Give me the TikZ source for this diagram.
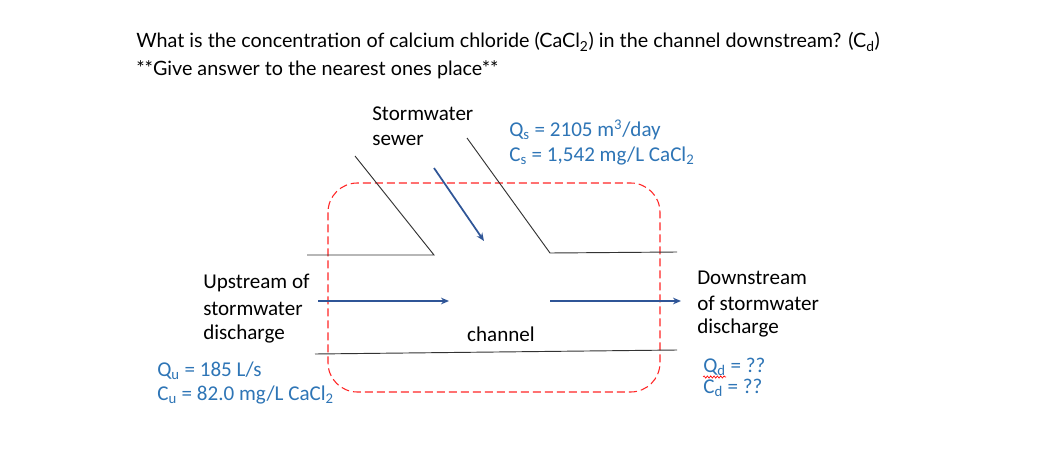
\documentclass[tikz,border=0pt]{standalone}
\usepackage{fontspec}
\setmainfont{Carlito}
\newfontfamily\hdr{Lato}
\usetikzlibrary{arrows.meta,decorations.pathmorphing}
\definecolor{qblue}{HTML}{2E75B6}
\definecolor{arrblue}{HTML}{2F5597}
\tikzset{
  wall/.style={draw=black!80, line width=0.7pt},
  flow/.style={draw=arrblue, line width=1.3pt, -{Stealth[length=6pt,width=5pt]}},
  lbl/.style={inner sep=0pt, anchor=west, font=\fontsize{15.8}{18}\selectfont},
  qlbl/.style={lbl, text=qblue},
  hd/.style={inner sep=0pt, anchor=west, font=\hdr\fontsize{14.8}{17}\selectfont}
}
\begin{document}
\begin{tikzpicture}[x=0.75pt,y=-0.75pt]
\useasboundingbox[fill=white] (0,0) rectangle (1058,450);
\node[hd] (h1) at (136,42) {What is the concentration of calcium chloride (CaCl\textsubscript{2}) in the channel downstream? (C\textsubscript{d})};
\node[hd] (h2) at (136,70) {**Give answer to the nearest ones place**};
\draw[red!85, dashed, line width=0.8pt, dash pattern=on 6pt off 3pt, rounded corners=22pt] (328,183) rectangle (660,392);
\coordinate (l1) at (307,255); \coordinate (l2) at (434,255); \coordinate (l3) at (355,156);
\draw[wall] (l1) -- (l2) -- (l3);
\coordinate (r1) at (467,138); \coordinate (r2) at (550,253); \coordinate (r3) at (677,252);
\draw[wall] (r1) -- (r2) -- (r3);
\coordinate (b1) at (315,354); \coordinate (b2) at (677,350);
\draw[wall] (b1) -- (b2);
\coordinate (s1) at (434,168); \coordinate (s2) at (484,241);
\draw[flow] (s1) -- (s2);
\coordinate (u1) at (318,301); \coordinate (u2) at (449,301);
\draw[flow] (u1) -- (u2);
\coordinate (d1) at (550,301); \coordinate (d2) at (681,301);
\draw[flow] (d1) -- (d2);
\node[lbl] (sw1) at (372,114) {Stormwater};
\node[lbl] (sw2) at (372,140) {sewer};
\node[qlbl] (qs) at (509,130) {Q\textsubscript{s} = 2105 m\textsuperscript{3}/day};
\node[qlbl] (cs) at (509,156) {C\textsubscript{s} = 1,542 mg/L CaCl\textsubscript{2}};
\node[lbl, anchor=center] (ch) at (501,334) {channel};
\node[lbl] (up1) at (203,283) {Upstream of};
\node[lbl] (up2) at (203,309) {stormwater};
\node[lbl] (up3) at (203,334) {discharge};
\node[lbl] (dn1) at (697,278) {Downstream};
\node[lbl] (dn2) at (697,303) {of stormwater};
\node[lbl] (dn3) at (697,328) {discharge};
\node[qlbl] (qu) at (157,371) {Q\textsubscript{u} = 185 L/s};
\node[qlbl] (cu) at (157,395) {C\textsubscript{u} = 82.0 mg/L CaCl\textsubscript{2}};
\node[qlbl] (qd) at (703,367) {Q\textsubscript{d} = ??};
\node[qlbl] (cd) at (703,388) {C\textsubscript{d} = ??};
\draw[red, line width=0.5pt, decorate, decoration={snake, amplitude=0.8pt, segment length=2.5pt}] (703,377) -- (726,377);
\end{tikzpicture}
\end{document}
